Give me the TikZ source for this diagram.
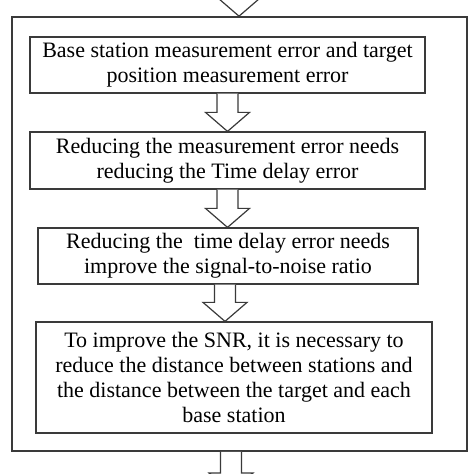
\documentclass[tikz,border=0pt]{standalone}
\usepackage{fontspec}
\setmainfont{Liberation Serif}
\usetikzlibrary{calc}
\definecolor{LineGray}{HTML}{3A3A3A}
\tikzset{
    stepbox/.style={draw=LineGray, line width=0.6pt, align=center, inner sep=0pt,
        font=\fontsize{11}{12.4}\selectfont},
    outerbox/.style={draw=LineGray, line width=0.8pt, inner sep=0pt},
    arrowline/.style={draw=LineGray, line width=0.6pt, fill=white}
}
% hollow block arrow from #1 down to #2
\NewDocumentCommand{\HollowArrow}{m m}{
    \draw[arrowline] let \p1=#1, \p2=#2 in
        (\x1-5.25pt,\y1) -- (\x1-5.25pt,\y2+9.5pt) -- (\x1-11pt,\y2+9.5pt)
        -- (\x1,\y2) -- (\x1+11pt,\y2+9.5pt) -- (\x1+5.25pt,\y2+9.5pt)
        -- (\x1+5.25pt,\y1);
}
\begin{document}
\begin{tikzpicture}[x=0.5pt, y=-0.5pt]
\useasboundingbox (0,0) rectangle (474,474);

\node[outerbox, minimum width=227.5pt, minimum height=217pt] (outer) at (239.5,234) {};

\node[stepbox, minimum width=197.5pt, minimum height=28pt] (b1) at (227.5,65)
    {Base station measurement error and target\\ position measurement error};
\node[stepbox, minimum width=197.5pt, minimum height=28.5pt] (b2) at (227.5,160.5)
    {Reducing the measurement error needs\\ reducing the Time delay error};
\node[stepbox, minimum width=190pt, minimum height=28pt] (b3) at (228,256)
    {Reducing the\ \ time delay error needs\\ improve the signal-to-noise ratio};
\node[stepbox, minimum width=198pt, minimum height=55.5pt] (b4) at (234,377.5)
    {To improve the SNR, it is necessary to\\ reduce the distance between stations and\\
     the distance between the target and each\\ base station};

\coordinate (in-top) at (239,-20);
\coordinate (out-bottom) at (231,492);

\HollowArrow{(in-top)}{(in-top |- outer.north)}
\HollowArrow{(b1.south)}{(b2.north)}
\HollowArrow{(b2.south)}{(b3.north -| b2.south)}
\HollowArrow{([xshift=-1.5pt]b3.south)}{([xshift=-1.5pt]b3.south |- b4.north)}
\HollowArrow{(outer.south -| out-bottom)}{(out-bottom)}
\end{tikzpicture}
\end{document}
